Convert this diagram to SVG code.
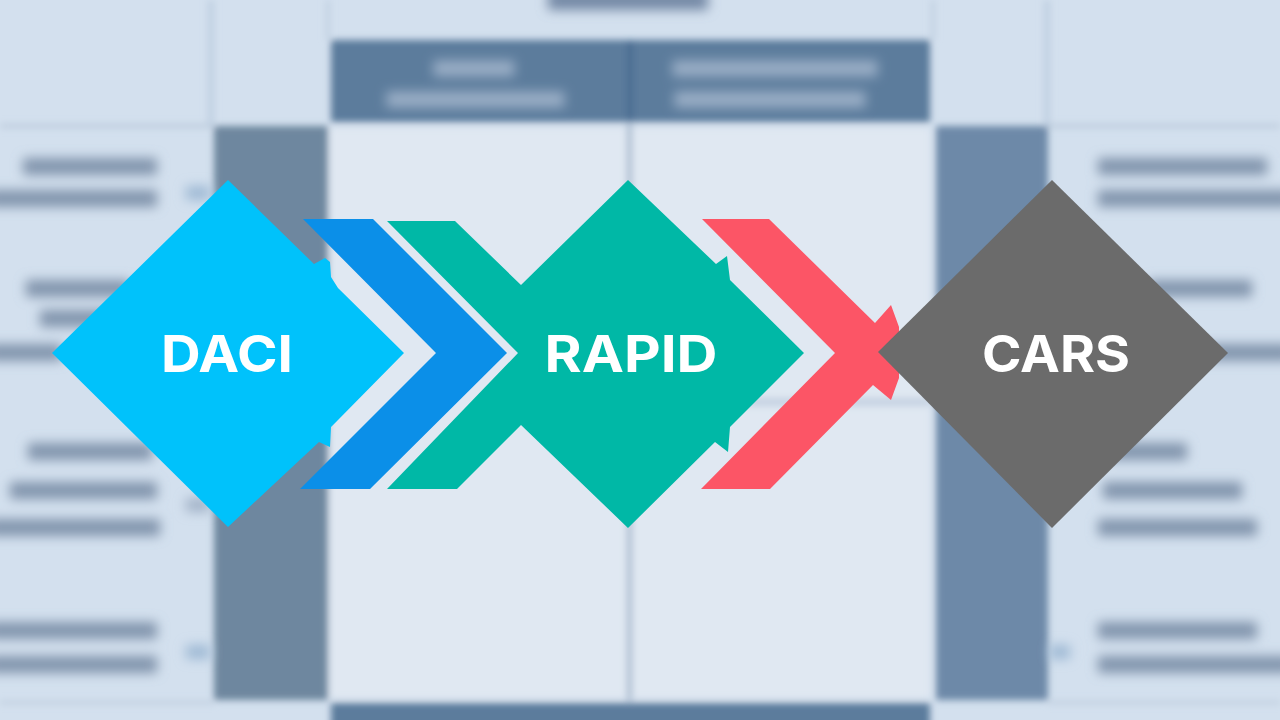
<svg xmlns="http://www.w3.org/2000/svg" width="1280" height="720" viewBox="0 0 1280 720">
<style>
.bar{fill:#8295ad;stroke:#8295ad;stroke-width:4}
.hbar{fill:#9aaec6;stroke:#9aaec6;stroke-width:3}
.lbl{font-family:"Inter","Liberation Sans",sans-serif;font-weight:700;font-size:51px;fill:#fff;text-anchor:middle}
</style>
<defs>
<filter id="b" x="-5%" y="-5%" width="110%" height="110%"><feGaussianBlur stdDeviation="3.5"/></filter>
<filter id="t" x="-20%" y="-150%" width="140%" height="400%"><feGaussianBlur stdDeviation="6"/></filter>
</defs>
<g id="background">
<rect width="1280" height="720" fill="#d3e0ee"/>
<g filter="url(#b)">
<rect x="330" y="128" width="600" height="570" fill="#e0e8f2"/>
<rect x="214" y="126" width="114" height="574" fill="#6e879f"/>
<rect x="936" y="126" width="112" height="574" fill="#6d89a8"/>
<rect x="331" y="40" width="599" height="82" fill="#5c7b9c"/>
<rect x="331" y="703" width="599" height="30" fill="#5c7b9c"/>
<rect x="627" y="40" width="6" height="82" fill="#4a6c91"/>
<rect x="627" y="124" width="5" height="576" fill="#a3b6cc"/>
<rect x="0" y="124" width="214" height="4" fill="#bccbdc"/>
<rect x="1048" y="124" width="232" height="4" fill="#bccbdc"/>
<rect x="208" y="0" width="6" height="126" fill="#bfcfe1"/>
<rect x="1044" y="0" width="6" height="126" fill="#bfcfe1"/>
<rect x="326" y="0" width="4" height="40" fill="#bfcfe1"/>
<rect x="931" y="0" width="4" height="40" fill="#bfcfe1"/>
<rect x="0" y="701" width="214" height="3" fill="#bccbdc"/>
<rect x="1048" y="701" width="232" height="3" fill="#bccbdc"/>
<rect x="640" y="398" width="290" height="8" fill="#c4d1e1"/>
</g>
<g filter="url(#t)">
<rect x="548" y="-10" width="160" height="20" fill="#7489a6"/>
<rect x="435" y="62" width="78" height="13" class="hbar"/>
<rect x="388" y="93" width="175" height="13" class="hbar"/>
<rect x="674" y="62" width="202" height="13" class="hbar"/>
<rect x="676" y="93" width="188" height="13" class="hbar"/>
<rect x="25" y="160" width="130" height="13" class="bar"/>
<rect x="-10" y="192" width="165" height="13" class="bar"/>
<rect x="28" y="282" width="100" height="13" class="bar"/>
<rect x="42" y="312" width="78" height="13" class="bar"/>
<rect x="-10" y="346" width="70" height="13" class="bar"/>
<rect x="30" y="445" width="120" height="13" class="bar"/>
<rect x="12" y="484" width="143" height="13" class="bar"/>
<rect x="-10" y="521" width="168" height="13" class="bar"/>
<rect x="-10" y="624" width="165" height="13" class="bar"/>
<rect x="-10" y="658" width="165" height="13" class="bar"/>
<rect x="1100" y="160" width="165" height="13" class="bar"/>
<rect x="1100" y="192" width="190" height="13" class="bar"/>
<rect x="1150" y="282" width="100" height="13" class="bar"/>
<rect x="1200" y="346" width="90" height="13" class="bar"/>
<rect x="1105" y="445" width="80" height="13" class="bar"/>
<rect x="1105" y="484" width="135" height="13" class="bar"/>
<rect x="1100" y="521" width="155" height="13" class="bar"/>
<rect x="1100" y="624" width="155" height="13" class="bar"/>
<rect x="1100" y="658" width="190" height="13" class="bar"/>
<rect x="186" y="186" width="24" height="14" fill="#9fb9d4"/>
<rect x="186" y="645" width="24" height="14" fill="#9fb9d4"/>
<rect x="186" y="498" width="24" height="14" fill="#a3b3c8"/>
<rect x="1050" y="645" width="20" height="14" fill="#9fb9d4"/>
</g>
</g>
<g id="connectors">
<polygon id="chevron-blue" points="303,219 373,219 507,353 370,489 300,489 436,353" fill="#0b8fe8"/>
<polygon id="chevron-red" points="702,219 769,219 875,323 891,305 899,327 899,378 891,400 873,385 770,489 701,489 835,353" fill="#fc5566"/>
</g>
<g id="node-daci">
<polygon points="228,180 314,264 325,258 330,262 331,277 338,288 404,353 338,420 331,427 330,447 319,442 228,527 52,353" fill="#00c2fb"/>
<text class="lbl" x="227" y="372" textLength="132" lengthAdjust="spacingAndGlyphs">DACI</text>
</g>
<g id="node-rapid">
<polygon points="628,180 716,264 727,256 730,280 804,353 730,427 728,452 715,442 628,528 521,425 457,489 387,489 518,353 387,221 455,221 521,285" fill="#00b8a6"/>
<text class="lbl" x="631" y="372" textLength="173" lengthAdjust="spacingAndGlyphs">RAPID</text>
</g>
<g id="node-cars">
<polygon points="1052,180 1228,353 1052,528 878,352" fill="#6b6b6b"/>
<text class="lbl" x="1056" y="372" textLength="148" lengthAdjust="spacingAndGlyphs">CARS</text>
</g>
</svg>
